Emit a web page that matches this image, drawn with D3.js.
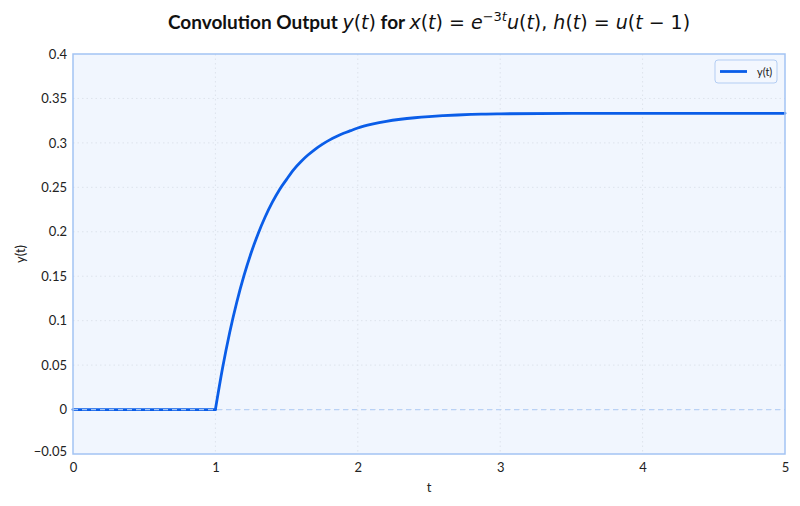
<!DOCTYPE html>
<html>
<head>
<meta charset="utf-8">
<script src="https://cdn.jsdelivr.net/npm/d3@7"></script>
<style>
  body { margin: 0; background: #fff; }
  text { font-family: Lato, "Open Sans", sans-serif; }
</style>
</head>
<body>
<svg width="800" height="506"></svg>
<script>
// values
var tValues = [0, 0.5, 1.0, 1.05, 1.1, 1.15, 1.2, 1.25, 1.3, 1.35, 1.4, 1.45, 1.5, 1.55, 1.6, 1.65,
               1.7, 1.75, 1.8, 1.85, 1.9, 1.95, 2.0, 2.1, 2.2, 2.3, 2.4, 2.5, 2.6, 2.7, 2.8, 2.9,
               3.0, 3.5, 4.0, 4.5, 5.0];
var yValues = [0, 0, 0, 0.0464, 0.0864, 0.1207, 0.1503, 0.1758, 0.1979, 0.2169, 0.2333, 0.2474,
               0.2590, 0.2700, 0.2788, 0.2863, 0.2928, 0.2984, 0.3031, 0.3072, 0.3108, 0.3138,
               0.3167, 0.3210, 0.3243, 0.3266, 0.3283, 0.3296, 0.3306, 0.3314, 0.3320, 0.3324,
               0.3327, 0.3332, 0.3333, 0.3333, 0.3333];
var xTicks = [0, 1, 2, 3, 4, 5];
var yTicks = [-0.05, 0, 0.05, 0.1, 0.15, 0.2, 0.25, 0.3, 0.35, 0.4];
var seriesName = "y(t)";

var svg = d3.select("svg"),
    margin = {top: 54, right: 15, bottom: 52, left: 73},
    width = +svg.attr("width") - margin.left - margin.right,
    height = +svg.attr("height") - margin.top - margin.bottom;

var g = svg.append("g").attr("transform", "translate(" + margin.left + "," + margin.top + ")");

var x = d3.scaleLinear().domain([0, 5]).range([0, width]);
var y = d3.scaleLinear().domain([-0.05, 0.4]).range([height, 0]);

g.append("rect")
    .attr("width", width).attr("height", height)
    .attr("fill", "#f1f6fe");

// grid
g.append("g").selectAll("line").data(xTicks.slice(1, -1)).enter().append("line")
    .attr("x1", d => x(d)).attr("x2", d => x(d))
    .attr("y1", 0).attr("y2", height)
    .attr("stroke", "#dde3ec").attr("stroke-dasharray", "1.5,3").attr("stroke-width", 1);
g.append("g").selectAll("line").data(yTicks.slice(1, -1)).enter().append("line")
    .attr("x1", 0).attr("x2", width)
    .attr("y1", d => y(d)).attr("y2", d => y(d))
    .attr("stroke", "#dde3ec").attr("stroke-dasharray", "1.5,3").attr("stroke-width", 1);

var data = tValues.map(function (t, i) { return {t: t, v: yValues[i]}; });
// flat part and rising part drawn separately so the corner at t = 1 stays sharp
var segments = [data.filter(d => d.t <= 1), data.filter(d => d.t >= 1)];

var line = d3.line()
    .x(d => x(d.t))
    .y(d => y(d.v))
    .curve(d3.curveMonotoneX);

g.selectAll(".curve")
    .data(segments)
    .enter()
    .append("path")
    .attr("class", "curve")
    .attr("fill", "none")
    .attr("stroke", "#0a5de8")
    .attr("stroke-width", 2.8)
    .attr("stroke-linecap", "round")
    .attr("d", line);

// zero reference line
g.append("line")
    .attr("x1", 0).attr("x2", width)
    .attr("y1", y(0)).attr("y2", y(0))
    .attr("stroke", "#b4cff6").attr("stroke-width", 1.3).attr("stroke-dasharray", "5,4")
    .attr("opacity", 0.9);

// frame
g.append("rect")
    .attr("width", width).attr("height", height)
    .attr("fill", "none").attr("stroke", "#a3c3f3").attr("stroke-width", 1.5);

// axes
var xAxis = g.append("g")
    .attr("transform", "translate(0," + height + ")")
    .call(d3.axisBottom(x).tickValues(xTicks).tickSize(0).tickPadding(9).tickFormat(d3.format("d")));
xAxis.select(".domain").remove();
xAxis.selectAll("text").attr("font-size", 13).attr("fill", "#222");

var yAxis = g.append("g")
    .call(d3.axisLeft(y).tickValues(yTicks).tickSize(0).tickPadding(6).tickFormat(d => d3.format("")(+d.toFixed(2))));
yAxis.select(".domain").remove();
yAxis.selectAll("text").attr("font-size", 13).attr("fill", "#222");
yAxis.selectAll(".tick text").filter(d => d === -0.05).attr("dy", "0.1em");

// axis labels
svg.append("text")
    .attr("x", margin.left + width / 2).attr("y", 492)
    .attr("text-anchor", "middle").attr("font-size", 13).attr("fill", "#222")
    .text("t");
svg.append("text")
    .attr("transform", "translate(25," + (margin.top + height / 2) + ") rotate(-90)")
    .attr("text-anchor", "middle").attr("font-size", 13).attr("fill", "#222")
    .text("y(t)");

// title with math parts
var title = svg.append("text")
    .attr("x", 429).attr("y", 29)
    .attr("text-anchor", "middle").attr("font-size", 19).attr("fill", "#111");
var mathFont = "DejaVu Sans";
title.append("tspan").attr("font-weight", "bold").attr("font-family", "Lato, sans-serif").text("Convolution Output ");
title.append("tspan").attr("font-family", mathFont).attr("font-style", "italic").text("y");
title.append("tspan").attr("font-family", mathFont).text("(");
title.append("tspan").attr("font-family", mathFont).attr("font-style", "italic").text("t");
title.append("tspan").attr("font-family", mathFont).text(")");
title.append("tspan").attr("font-weight", "bold").attr("font-family", "Lato, sans-serif").text(" for ");
title.append("tspan").attr("font-family", mathFont).attr("font-style", "italic").text("x");
title.append("tspan").attr("font-family", mathFont).text("(");
title.append("tspan").attr("font-family", mathFont).attr("font-style", "italic").text("t");
title.append("tspan").attr("font-family", mathFont).text(") = ");
title.append("tspan").attr("font-family", mathFont).attr("font-style", "italic").text("e");
title.append("tspan").attr("font-family", mathFont).attr("font-size", 13).attr("dy", -8).text("\u22123");
title.append("tspan").attr("font-family", mathFont).attr("font-size", 13).attr("font-style", "italic").text("t");
title.append("tspan").attr("font-family", mathFont).attr("font-style", "italic").attr("dy", 8).text("u");
title.append("tspan").attr("font-family", mathFont).text("(");
title.append("tspan").attr("font-family", mathFont).attr("font-style", "italic").text("t");
title.append("tspan").attr("font-family", mathFont).text("), ");
title.append("tspan").attr("font-family", mathFont).attr("font-style", "italic").text("h");
title.append("tspan").attr("font-family", mathFont).text("(");
title.append("tspan").attr("font-family", mathFont).attr("font-style", "italic").text("t");
title.append("tspan").attr("font-family", mathFont).text(") = ");
title.append("tspan").attr("font-family", mathFont).attr("font-style", "italic").text("u");
title.append("tspan").attr("font-family", mathFont).text("(");
title.append("tspan").attr("font-family", mathFont).attr("font-style", "italic").text("t");
title.append("tspan").attr("font-family", mathFont).text(" \u2212 1)");

// legend
var lg = svg.append("g").attr("transform", "translate(715,60)");
lg.append("rect")
    .attr("width", 62).attr("height", 23).attr("rx", 3)
    .attr("fill", "#f3f7fe").attr("stroke", "#b3cdf3").attr("stroke-width", 1);
lg.append("line")
    .attr("x1", 5).attr("x2", 32).attr("y1", 11.5).attr("y2", 11.5)
    .attr("stroke", "#0a5de8").attr("stroke-width", 2.8);
lg.append("text")
    .attr("x", 42).attr("y", 15.5).attr("font-size", 11).attr("fill", "#222")
    .text(seriesName);
</script>
</body>
</html>
